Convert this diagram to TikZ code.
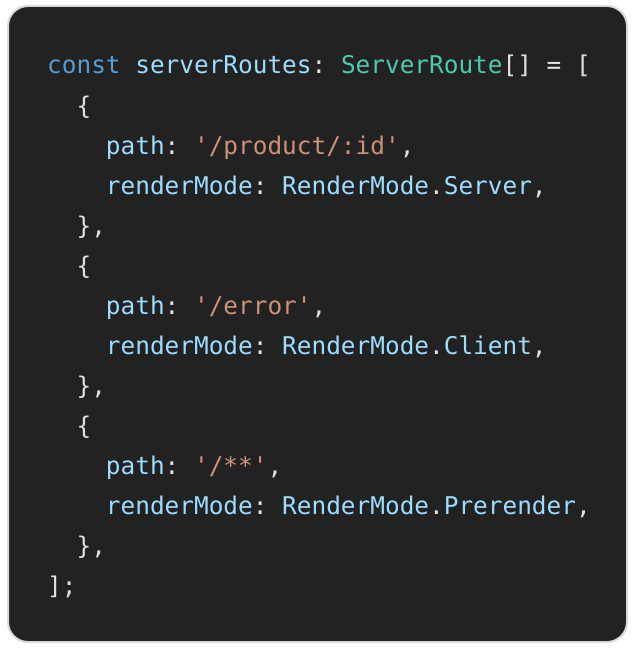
\documentclass[tikz,border=0pt]{standalone}
\usepackage{fontspec}
\setmonofont{DejaVu Sans Mono}
\usepackage{xcolor}
\definecolor{kwblue}{HTML}{569CD6}
\definecolor{varblue}{HTML}{9CDCFE}
\definecolor{typegreen}{HTML}{4EC9B0}
\definecolor{strorange}{HTML}{CE9178}
\definecolor{plain}{HTML}{E0E0E0}
\definecolor{panel}{HTML}{222222}
\newcommand{\kw}[1]{\textcolor{kwblue}{#1}}
\newcommand{\vr}[1]{\textcolor{varblue}{#1}}
\newcommand{\ty}[1]{\textcolor{typegreen}{#1}}
\newcommand{\st}[1]{\textcolor{strorange}{#1}}

\begin{document}
\begin{tikzpicture}[x=1pt, y=-1pt,
        codeline/.style={anchor=base west, inner sep=0pt, text=plain, font=\ttfamily\fontsize{24.4}{28}\selectfont}
    ]

        % Page and panel
        \useasboundingbox (0,0) rectangle (639,650);
        \fill[white] (0,0) rectangle (639,650);
        \draw[black!15, line width=2pt, fill=panel, rounded corners=20pt] (8,6) rectangle (627,642);

        % Code lines
        \node[codeline] (l1) at (47,74) {\kw{const} \vr{serverRoutes}: \ty{ServerRoute}[] = [};
        \node[codeline] (l2) at (47,114) {\ \ \{};
        \node[codeline] (l3) at (47,154) {\ \ \ \ \vr{path}: \st{'/product/:id'},};
        \node[codeline] (l4) at (47,194) {\ \ \ \ \vr{renderMode}: \vr{RenderMode}.\vr{Server},};
        \node[codeline] (l5) at (47,234) {\ \ \},};
        \node[codeline] (l6) at (47,274) {\ \ \{};
        \node[codeline] (l7) at (47,314) {\ \ \ \ \vr{path}: \st{'/error'},};
        \node[codeline] (l8) at (47,354) {\ \ \ \ \vr{renderMode}: \vr{RenderMode}.\vr{Client},};
        \node[codeline] (l9) at (47,394) {\ \ \},};
        \node[codeline] (l10) at (47,434) {\ \ \{};
        \node[codeline] (l11) at (47,474) {\ \ \ \ \vr{path}: \st{'/**'},};
        \node[codeline] (l12) at (47,514) {\ \ \ \ \vr{renderMode}: \vr{RenderMode}.\vr{Prerender},};
        \node[codeline] (l13) at (47,554) {\ \ \},};
        \node[codeline] (l14) at (47,594) {];};

    \end{tikzpicture}
\end{document}
